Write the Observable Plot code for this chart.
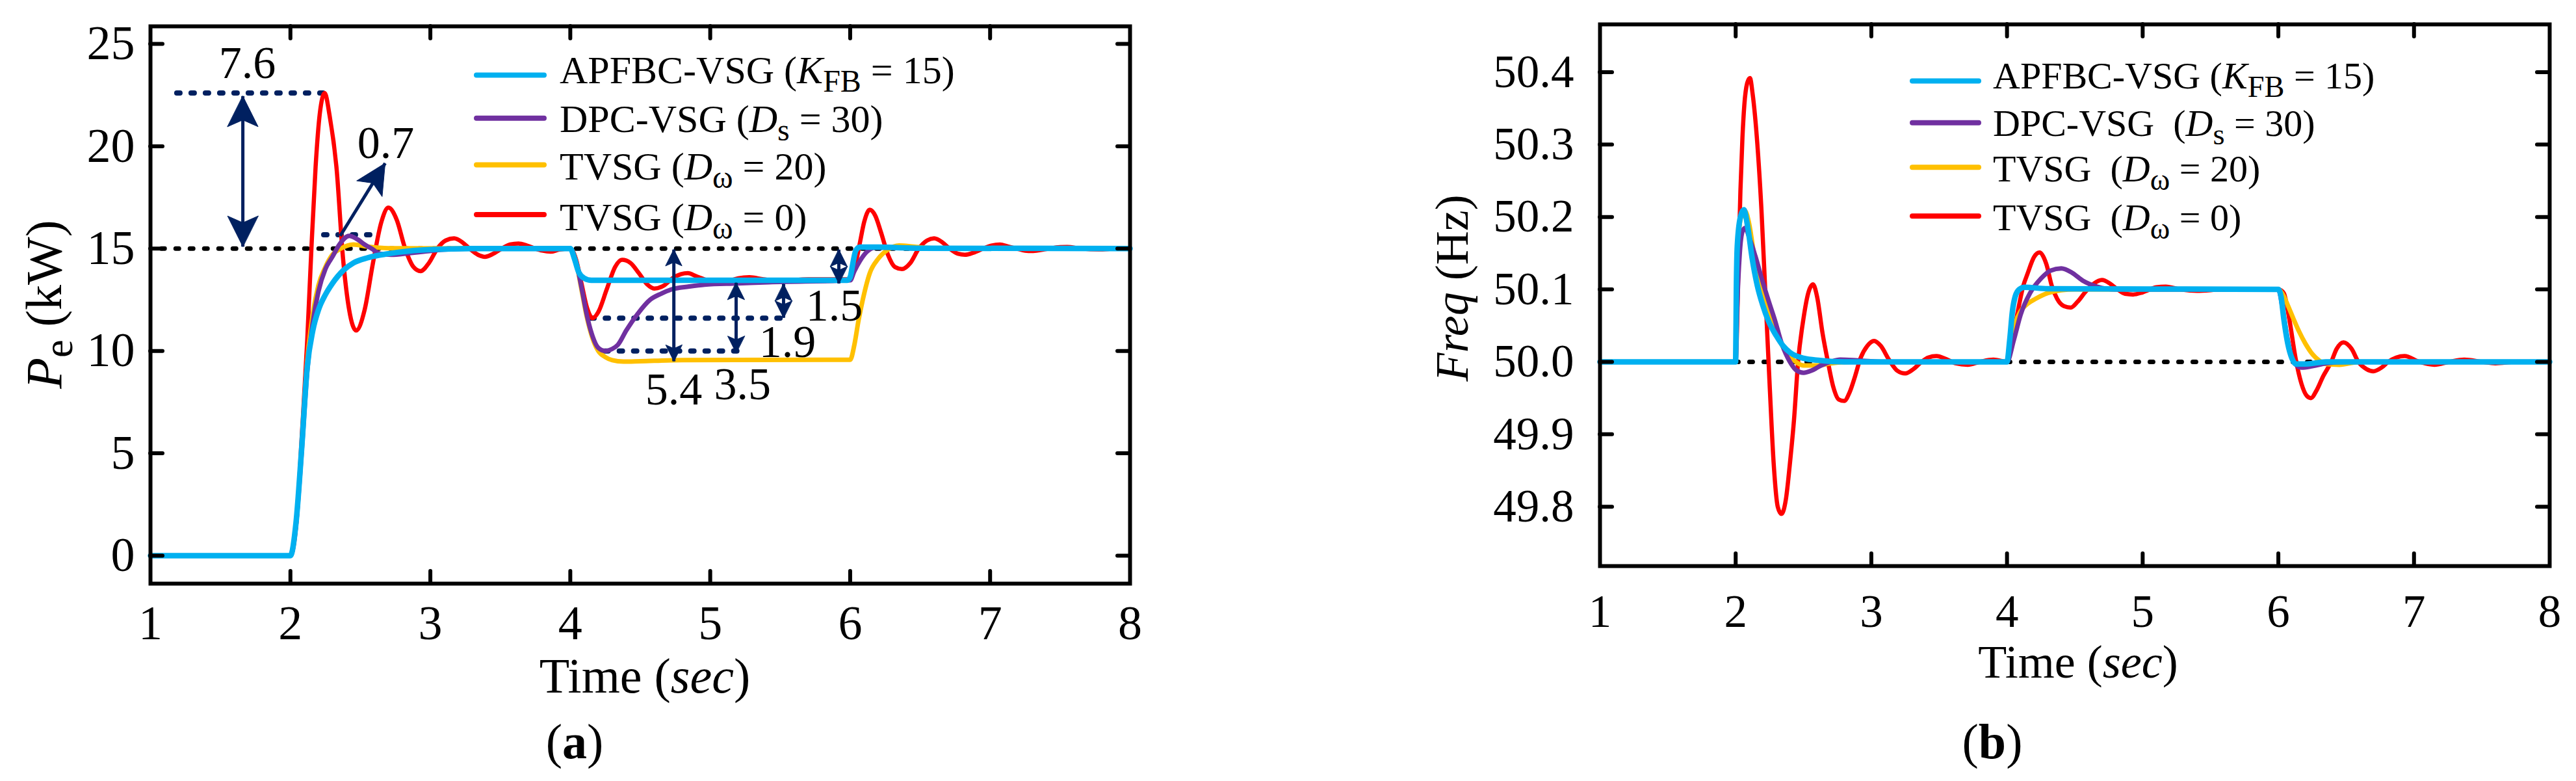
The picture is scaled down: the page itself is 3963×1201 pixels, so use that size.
<!DOCTYPE html>
<html>
<head>
<meta charset="utf-8">
<script src="https://cdn.jsdelivr.net/npm/d3@7"></script>
<script src="https://cdn.jsdelivr.net/npm/@observablehq/plot@0.6"></script>
<style>
html, body { margin: 0; padding: 0; background: #fff; }
#root { position: relative; width: 3963px; height: 1201px; overflow: hidden; background: #fff; }
#root svg { position: absolute; top: 0; left: 0; }
</style>
</head>
<body>
<div id="root"></div>
<script>
// ---------------- data ----------------
const TIME_TICKS = [1, 2, 3, 4, 5, 6, 7, 8];
const PE_TICKS = [0, 5, 10, 15, 20, 25];
const FREQ_TICKS = [49.8, 49.9, 50.0, 50.1, 50.2, 50.3, 50.4];

const SERIES = ["APFBC-VSG", "DPC-VSG", "TVSG (Dw=20)", "TVSG (Dw=0)"];

// (a) active power Pe (kW) vs time (s)
const peTVSG0 = [[1,0],[2.0,0],[2.045,1.75],[2.08,5.7],[2.12,10.5],[2.15,15],[2.18,19],[2.21,21.6],[2.245,22.6],[2.28,21.5],[2.33,18.9],[2.375,14.6],[2.42,12.0],[2.47,11.0],[2.53,12.0],[2.59,14.3],[2.65,16.3],[2.70,17.0],[2.76,16.4],[2.82,15.0],[2.88,14.1],[2.93,13.9],[2.99,14.3],[3.05,15.0],[3.11,15.4],[3.17,15.5],[3.23,15.3],[3.28,15.0],[3.34,14.7],[3.39,14.6],[3.45,14.75],[3.51,15.0],[3.57,15.2],[3.63,15.25],[3.69,15.15],[3.75,15.0],[3.8,14.9],[3.86,14.85],[3.92,14.95],[4.0,15.0],[4.04,14.5],[4.08,13.3],[4.12,12.1],[4.16,11.6],[4.2,11.9],[4.26,13.0],[4.32,14.1],[4.37,14.45],[4.43,14.3],[4.49,13.8],[4.55,13.25],[4.6,13.05],[4.67,13.2],[4.73,13.55],[4.79,13.75],[4.84,13.8],[4.9,13.65],[4.98,13.45],[5.05,13.35],[5.12,13.4],[5.2,13.55],[5.28,13.6],[5.38,13.5],[5.5,13.42],[5.7,13.5],[6.0,13.5],[6.03,14.0],[6.07,15.3],[6.1,16.3],[6.14,16.9],[6.18,16.6],[6.22,15.8],[6.27,14.7],[6.32,14.1],[6.37,14.0],[6.43,14.3],[6.49,15.0],[6.55,15.4],[6.6,15.5],[6.66,15.3],[6.71,15.0],[6.77,14.75],[6.82,14.7],[6.88,14.8],[6.95,15.0],[7.01,15.15],[7.07,15.2],[7.13,15.1],[7.19,15.0],[7.25,14.9],[7.3,14.88],[7.36,14.93],[7.42,15.0],[7.5,15.07],[7.55,15.08],[7.65,15.0],[7.78,14.96],[7.9,15.0],[8,15.0]];
const peTVSG20 = [[1,0],[2.0,0],[2.04,1.6],[2.08,5.3],[2.12,9.5],[2.16,11.8],[2.2,13.2],[2.25,14.1],[2.3,14.7],[2.36,15.0],[2.45,15.2],[2.55,15.1],[2.7,15.02],[4.0,15.0],[4.04,14.4],[4.08,13.0],[4.12,11.6],[4.16,10.6],[4.2,10.0],[4.25,9.7],[4.3,9.55],[4.38,9.48],[4.5,9.5],[4.8,9.55],[6.0,9.57],[6.03,10.3],[6.06,11.5],[6.09,12.5],[6.14,13.8],[6.2,14.5],[6.27,14.95],[6.35,15.15],[6.45,15.1],[6.6,15.02],[8,15.0]];
const peDPC = [[1,0],[2.0,0],[2.04,1.5],[2.08,5.0],[2.12,9.0],[2.16,11.4],[2.2,12.9],[2.25,14.0],[2.3,14.6],[2.35,15.2],[2.42,15.62],[2.48,15.45],[2.53,15.2],[2.58,15.0],[2.64,14.75],[2.72,14.7],[2.85,14.78],[2.95,14.85],[3.1,14.95],[3.3,15.0],[4.0,15.0],[4.04,14.4],[4.08,13.1],[4.12,11.7],[4.16,10.7],[4.2,10.15],[4.25,10.0],[4.3,10.1],[4.34,10.3],[4.4,11.0],[4.48,11.8],[4.57,12.5],[4.65,12.8],[4.72,13.0],[4.85,13.15],[4.96,13.24],[5.2,13.3],[5.42,13.36],[6.0,13.45],[6.03,13.9],[6.07,14.4],[6.12,14.85],[6.18,15.05],[6.3,15.05],[6.5,15.0],[8,15.0]];
const peAPFBC = [[1,0],[2.0,0],[2.04,1.6],[2.08,5.2],[2.12,9.2],[2.16,11.0],[2.2,12.0],[2.25,12.75],[2.3,13.3],[2.38,13.95],[2.45,14.3],[2.55,14.55],[2.7,14.75],[2.85,14.88],[3.0,14.95],[3.3,15.0],[4.0,15.0],[4.03,14.5],[4.06,13.85],[4.1,13.55],[4.15,13.45],[5.98,13.45],[6.0,13.6],[6.02,14.3],[6.04,14.9],[6.07,15.07],[6.2,15.07],[6.5,15.02],[8,15.0]];

// (b) frequency (Hz) vs time (s)
const fTVSG0 = [[1,50],[2.0,50],[2.006,50.02],[2.02,50.13],[2.035,50.236],[2.05,50.31],[2.064,50.355],[2.085,50.385],[2.105,50.392],[2.125,50.37],[2.16,50.3],[2.19,50.21],[2.22,50.09],[2.25,49.97],[2.28,49.86],[2.31,49.8],[2.337,49.79],[2.37,49.81],[2.4,49.86],[2.43,49.92],[2.46,50.0],[2.5,50.06],[2.535,50.095],[2.57,50.107],[2.6,50.09],[2.64,50.04],[2.68,50.0],[2.72,49.965],[2.76,49.948],[2.8,49.946],[2.84,49.958],[2.88,49.98],[2.92,50.005],[2.97,50.022],[3.02,50.029],[3.07,50.022],[3.13,50.003],[3.19,49.988],[3.25,49.984],[3.31,49.99],[3.37,50.0],[3.42,50.006],[3.48,50.008],[3.55,50.004],[3.62,49.998],[3.71,49.996],[3.8,50.0],[3.9,50.003],[4.0,50.0],[4.04,50.03],[4.08,50.07],[4.12,50.105],[4.15,50.121],[4.2,50.145],[4.24,50.151],[4.29,50.135],[4.33,50.105],[4.37,50.087],[4.42,50.077],[4.47,50.075],[4.52,50.083],[4.58,50.097],[4.64,50.108],[4.7,50.113],[4.76,50.108],[4.815,50.1],[4.87,50.094],[4.93,50.093],[5.0,50.096],[5.1,50.103],[5.17,50.104],[5.28,50.1],[5.4,50.098],[5.6,50.1],[6.0,50.1],[6.04,50.095],[6.08,50.06],[6.127,50.005],[6.17,49.97],[6.21,49.953],[6.24,49.95],[6.28,49.96],[6.33,49.98],[6.39,50.0],[6.43,50.018],[6.48,50.027],[6.54,50.018],[6.59,50.0],[6.65,49.99],[6.7,49.987],[6.76,49.992],[6.81,50.0],[6.87,50.006],[6.93,50.008],[7.04,50.0],[7.15,49.996],[7.26,50.0],[7.37,50.003],[7.5,50.0],[7.6,49.998],[7.75,50.0],[8,50.0]];
const fTVSG20 = [[1,50],[2.0,50],[2.005,50.1],[2.015,50.16],[2.04,50.2],[2.07,50.208],[2.1,50.19],[2.13,50.155],[2.17,50.115],[2.21,50.085],[2.25,50.062],[2.3,50.038],[2.35,50.02],[2.4,50.007],[2.45,49.999],[2.5,49.995],[2.6,49.995],[2.7,49.998],[2.85,50.0],[4.0,50.0],[4.03,50.03],[4.06,50.053],[4.1,50.07],[4.15,50.08],[4.21,50.087],[4.3,50.095],[4.4,50.099],[4.5,50.1],[6.0,50.1],[6.03,50.094],[6.07,50.078],[6.11,50.06],[6.15,50.043],[6.2,50.025],[6.25,50.011],[6.3,50.002],[6.35,49.997],[6.45,49.996],[6.6,50.0],[8,50.0]];
const fDPC = [[1,50],[2.0,50],[2.01,50.07],[2.03,50.15],[2.05,50.18],[2.07,50.185],[2.1,50.172],[2.145,50.146],[2.2,50.11],[2.25,50.08],[2.29,50.057],[2.34,50.025],[2.4,50.0],[2.45,49.988],[2.5,49.985],[2.56,49.988],[2.63,49.995],[2.7,50.0],[2.77,50.003],[2.9,50.002],[3.1,50.0],[4.0,50.0],[4.05,50.03],[4.1,50.065],[4.17,50.095],[4.25,50.115],[4.32,50.126],[4.4,50.129],[4.48,50.123],[4.56,50.112],[4.66,50.104],[4.8,50.1],[6.0,50.1],[6.03,50.075],[6.06,50.04],[6.09,50.012],[6.12,49.998],[6.17,49.992],[6.25,49.994],[6.35,49.998],[6.5,50.0],[8,50.0]];
const fAPFBC = [[1,50],[2.0,50],[2.005,50.1],[2.012,50.16],[2.035,50.2],[2.06,50.21],[2.09,50.185],[2.12,50.145],[2.16,50.105],[2.2,50.078],[2.24,50.057],[2.3,50.036],[2.35,50.022],[2.4,50.013],[2.5,50.005],[2.62,50.002],[2.8,50.0],[4.0,50.0],[4.02,50.03],[4.04,50.07],[4.06,50.09],[4.09,50.1],[4.13,50.103],[4.3,50.101],[6.0,50.1],[6.02,50.09],[6.04,50.06],[6.07,50.025],[6.1,50.005],[6.13,49.997],[6.2,49.997],[6.35,50.0],[8,50.0]];

// reference levels (dotted black)
const REF_PE = 15;
const REF_F = 50.0;

// annotation guides in (a): dotted navy levels
const guideLevels = [22.6, 15.68, 11.6, 10.0];
const guideFrom = [1.19, 2.24, 4.15, 4.25];
const guideTo = [2.24, 2.58, 5.55, 5.21];

// vertical double arrows in (a): time, low end, high end, head length (px)
const arrowT = [1.66, 4.74, 5.185, 5.524, 5.919];
const arrowLow = [15.1, 9.5, 9.9, 11.62, 13.3];
const arrowHigh = [22.45, 14.95, 13.33, 13.27, 14.95];
const arrowHead = [47, 25, 26, 26, 26];
// single diagonal arrow (0.7)
const diagFrom = [2.356, 15.62];
const diagTo = [2.677, 19.17];

// annotation numbers
const noteText = ["7.6", "0.7", "5.4", "3.5", "1.9", "1.5"];
const noteT = [1.692, 2.681, 4.739, 5.231, 5.552, 5.886];
const noteV = [23.33, 19.43, 7.37, 7.65, 9.71, 11.49];

// ---------------- styling ----------------
const FONT = "'Liberation Serif','Times New Roman',Times,serif";
const NAVY = "#002060";
const COLOR = {"APFBC-VSG": "#00b0f0", "DPC-VSG": "#7030a0", "TVSG (Dw=20)": "#ffc000", "TVSG (Dw=0)": "#ff0000"};
const WIDTH = {"APFBC-VSG": 8.5, "DPC-VSG": 7, "TVSG (Dw=20)": 7, "TVSG (Dw=0)": 6.5};
const DRAW_ORDER = ["TVSG (Dw=0)", "TVSG (Dw=20)", "DPC-VSG", "APFBC-VSG"];
const PAGE_W = 3963, PAGE_H = 1201;

const toRows = (pairs, s) => pairs.map(([t, v]) => ({t, v, s}));
const dataA = {
  "APFBC-VSG": toRows(peAPFBC, "APFBC-VSG"),
  "DPC-VSG": toRows(peDPC, "DPC-VSG"),
  "TVSG (Dw=20)": toRows(peTVSG20, "TVSG (Dw=20)"),
  "TVSG (Dw=0)": toRows(peTVSG0, "TVSG (Dw=0)")
};
const dataB = {
  "APFBC-VSG": toRows(fAPFBC, "APFBC-VSG"),
  "DPC-VSG": toRows(fDPC, "DPC-VSG"),
  "TVSG (Dw=20)": toRows(fTVSG20, "TVSG (Dw=20)"),
  "TVSG (Dw=0)": toRows(fTVSG0, "TVSG (Dw=0)")
};

// filled, slightly concave arrowhead for Plot.vector
const headShape = {
  draw(ctx, l) {
    const w = l * 0.5;
    ctx.moveTo(0, -l);
    ctx.lineTo(w, 0);
    ctx.lineTo(0, -l * 0.22);
    ctx.lineTo(-w, 0);
    ctx.closePath();
  }
};

function frameTicks(xTicks, yTicks, innerW, innerH, len) {
  const st = {stroke: "black", strokeWidth: 6, strokeLinecap: "round"};
  return [
    Plot.ruleX(xTicks, {x: d => d, insetTop: innerH - len, ...st}),
    Plot.ruleX(xTicks, {x: d => d, insetBottom: innerH - len, ...st}),
    Plot.ruleY(yTicks, {y: d => d, insetRight: innerW - len, ...st}),
    Plot.ruleY(yTicks, {y: d => d, insetLeft: innerW - len, ...st})
  ];
}

function seriesMarks(data) {
  return DRAW_ORDER.map(s => Plot.line(data[s], {
    x: "t", y: "v", stroke: COLOR[s], strokeWidth: WIDTH[s],
    curve: "monotone-x", strokeLinejoin: "round", strokeLinecap: "round"
  }));
}

function richText(parent, x, y, parts, size, opts = {}) {
  const t = parent.append("text")
    .attr("x", x).attr("y", y)
    .attr("font-size", size)
    .attr("font-family", FONT)
    .attr("fill", "black")
    .attr("text-anchor", opts.anchor || "start")
    .style("white-space", "pre");
  if (opts.transform) t.attr("transform", opts.transform);
  let shift = 0;
  for (const p of parts) {
    const ts = t.append("tspan").text(p.t);
    if (p.i) ts.attr("font-style", "italic");
    if (p.b) ts.attr("font-weight", "bold");
    const target = p.sub ? size * 0.22 : 0;
    if (target !== shift) { ts.attr("dy", target - shift); shift = target; }
    if (p.sub) ts.attr("font-size", size * 0.8);
  }
  return t;
}

const baseStyle = (fs) => ({fontFamily: FONT, fontSize: fs + "px", color: "black", background: "transparent", overflow: "visible"});

// ---------------- panel (a) ----------------
// both panels are full-page SVGs overlaid, so internal coordinates equal page coordinates
const A = {mL: 231, mR: PAGE_W - 1738, mT: 40, mB: PAGE_H - 897, yDom: [-1.37, 25.86]};
A.iw = PAGE_W - A.mL - A.mR; A.ih = PAGE_H - A.mT - A.mB;
const pxT_A = A.iw / 7, pxV_A = A.ih / (A.yDom[1] - A.yDom[0]);
const diagAngle = Math.atan2((diagTo[0] - diagFrom[0]) * pxT_A, (diagTo[1] - diagFrom[1]) * pxV_A) * 180 / Math.PI;

const guides = guideLevels.map((y, i) => ({y, x1: guideFrom[i], x2: guideTo[i]}));
const arrows = arrowT.map((t, i) => ({t, lo: arrowLow[i], hi: arrowHigh[i], len: arrowHead[i]}));
const heads = arrows.flatMap(a => [
  {t: a.t, v: a.hi, rot: 0, len: a.len},
  {t: a.t, v: a.lo, rot: 180, len: a.len}
]).concat([{t: diagTo[0], v: diagTo[1], rot: diagAngle, len: 46}]);
const notes = noteText.map((text, i) => ({text, t: noteT[i], v: noteV[i]}));

const innerTimeTicks = TIME_TICKS.slice(1, -1);

const plotA = Plot.plot({
  width: PAGE_W, height: PAGE_H,
  marginLeft: A.mL, marginRight: A.mR, marginTop: A.mT, marginBottom: A.mB,
  x: {domain: [1, 8], label: null},
  y: {domain: A.yDom, label: null},
  length: {type: "identity"},
  style: baseStyle(74),
  marks: [
    Plot.ruleY([{y: REF_PE, x1: 1.08, x2: 8}], {y: "y", x1: "x1", x2: "x2", stroke: "black", strokeWidth: 7, strokeDasharray: "5,17", strokeLinecap: "round"}),
    Plot.ruleY(guides, {y: "y", x1: "x1", x2: "x2", stroke: NAVY, strokeWidth: 8, strokeDasharray: "5,17", strokeLinecap: "round"}),
    ...seriesMarks(dataA),
    Plot.link(arrows, {x1: "t", x2: "t", y1: "lo", y2: "hi", stroke: NAVY, strokeWidth: 5}),
    Plot.link([{x1: diagFrom[0], y1: diagFrom[1], x2: diagTo[0], y2: diagTo[1]}], {x1: "x1", y1: "y1", x2: "x2", y2: "y2", stroke: NAVY, strokeWidth: 5}),
    Plot.vector(heads, {x: "t", y: "v", rotate: "rot", length: "len", shape: headShape, anchor: "end", fill: NAVY, stroke: NAVY, strokeWidth: 1}),
    Plot.text(notes, {x: "t", y: "v", text: "text", fontSize: 70, lineAnchor: "bottom", textAnchor: "middle", fill: "black"}),
    ...frameTicks(innerTimeTicks, PE_TICKS, A.iw, A.ih, 19),
    Plot.frame({stroke: "black", strokeWidth: 6}),
    Plot.axisX({ticks: TIME_TICKS, tickSize: 0, tickPadding: 33, tickFormat: d3.format("d"), label: null}),
    Plot.axisY({ticks: PE_TICKS, tickSize: 0, tickPadding: 24, tickFormat: d3.format("d"), label: null})
  ]
});
document.getElementById("root").appendChild(plotA);

// ---------------- panel (b) ----------------
const B = {mL: 2461, mR: PAGE_W - 3922, mT: 37, mB: PAGE_H - 870, yDom: [49.718, 50.466]};
B.iw = PAGE_W - B.mL - B.mR; B.ih = PAGE_H - B.mT - B.mB;

const plotB = Plot.plot({
  width: PAGE_W, height: PAGE_H,
  marginLeft: B.mL, marginRight: B.mR, marginTop: B.mT, marginBottom: B.mB,
  x: {domain: [1, 8], label: null},
  y: {domain: B.yDom, label: null},
  style: baseStyle(71),
  marks: [
    Plot.ruleY([{y: REF_F, x1: 1.05, x2: 8}], {y: "y", x1: "x1", x2: "x2", stroke: "black", strokeWidth: 7, strokeDasharray: "5,17", strokeLinecap: "round"}),
    ...seriesMarks(dataB),
    ...frameTicks(innerTimeTicks, FREQ_TICKS, B.iw, B.ih, 19),
    Plot.frame({stroke: "black", strokeWidth: 6}),
    Plot.axisX({ticks: TIME_TICKS, tickSize: 0, tickPadding: 43, tickFormat: d3.format("d"), label: null}),
    Plot.axisY({ticks: FREQ_TICKS, tickSize: 0, tickPadding: 40, tickFormat: d3.format(".1f"), label: null})
  ]
});
document.getElementById("root").appendChild(plotB);

// ---------------- legends, axis titles, panel labels ----------------
const legendRowsA = [
  {s: "APFBC-VSG", parts: [{t: "APFBC-VSG ("}, {t: "K", i: true}, {t: "FB", sub: true}, {t: " = 15)"}]},
  {s: "DPC-VSG", parts: [{t: "DPC-VSG ("}, {t: "D", i: true}, {t: "s", sub: true}, {t: " = 30)"}]},
  {s: "TVSG (Dw=20)", parts: [{t: "TVSG ("}, {t: "D", i: true}, {t: "ω", sub: true}, {t: " = 20)"}]},
  {s: "TVSG (Dw=0)", parts: [{t: "TVSG ("}, {t: "D", i: true}, {t: "ω", sub: true}, {t: " = 0)"}]}
];
const legendRowsB = [
  {s: "APFBC-VSG", parts: [{t: "APFBC-VSG ("}, {t: "K", i: true}, {t: "FB", sub: true}, {t: " = 15)"}]},
  {s: "DPC-VSG", parts: [{t: "DPC-VSG  ("}, {t: "D", i: true}, {t: "s", sub: true}, {t: " = 30)"}]},
  {s: "TVSG (Dw=20)", parts: [{t: "TVSG  ("}, {t: "D", i: true}, {t: "ω", sub: true}, {t: " = 20)"}]},
  {s: "TVSG (Dw=0)", parts: [{t: "TVSG  ("}, {t: "D", i: true}, {t: "ω", sub: true}, {t: " = 0)"}]}
];

function legend(svgEl, rows, x0, x1, tx, lineY, baseY, size) {
  const g = d3.select(svgEl).append("g").attr("class", "legend");
  rows.forEach((row, i) => {
    g.append("line").attr("x1", x0).attr("x2", x1).attr("y1", lineY[i]).attr("y2", lineY[i])
      .attr("stroke", COLOR[row.s]).attr("stroke-width", 8).attr("stroke-linecap", "round");
    richText(g, tx, baseY[i], row.parts, size);
  });
}
legend(plotA, legendRowsA, 733, 837, 861, [115.6, 181.8, 253.4, 329.9], [128, 203, 276, 354], 60);
legend(plotB, legendRowsB, 2942, 3044, 3066, [124.4, 188.7, 257.2, 332.2], [136, 209, 279, 354], 58);

const sA = d3.select(plotA);
richText(sA, 992, 1065, [{t: "Time ("}, {t: "sec", i: true}, {t: ")"}], 76, {anchor: "middle"});
richText(sA, 0, 0, [{t: "P", i: true}, {t: "e", sub: true}, {t: " (kW)"}], 78,
  {anchor: "middle", transform: "translate(94,468) rotate(-90)"});
richText(sA, 884, 1166, [{t: "("}, {t: "a", b: true}, {t: ")"}], 76, {anchor: "middle"});

const sB = d3.select(plotB);
richText(sB, 3197, 1042, [{t: "Time ("}, {t: "sec", i: true}, {t: ")"}], 72, {anchor: "middle"});
richText(sB, 0, 0, [{t: "Freq", i: true}, {t: " (Hz)"}], 72,
  {anchor: "middle", transform: "translate(2258,443) rotate(-90)"});
richText(sB, 3065, 1166, [{t: "("}, {t: "b", b: true}, {t: ")"}], 76, {anchor: "middle"});
</script>
</body>
</html>
